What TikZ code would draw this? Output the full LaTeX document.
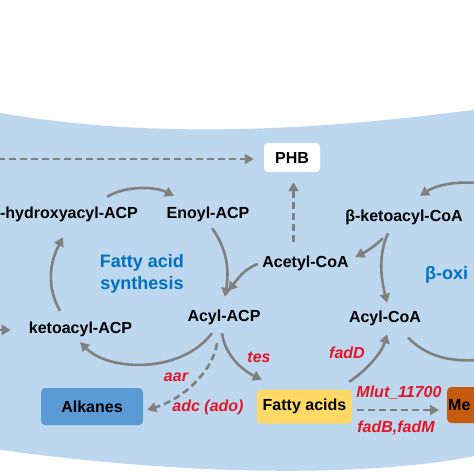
\documentclass[tikz,border=0pt]{standalone}
\usepackage{fontspec}
\setmainfont{Liberation Sans}
\usetikzlibrary{arrows.meta}
\definecolor{cellblue}{RGB}{189,215,238}
\definecolor{arrowgray}{RGB}{128,128,128}
\definecolor{genered}{RGB}{230,20,40}
\definecolor{pathblue}{RGB}{0,112,192}
\definecolor{alkblue}{RGB}{91,155,213}
\definecolor{fayellow}{RGB}{255,217,102}
\definecolor{mebrown}{RGB}{197,90,17}

\begin{document}
\begin{tikzpicture}
	[x=1pt,y=-1pt,
	met/.style={font=\fontsize{16}{19}\selectfont\bfseries,inner sep=1pt},
	gene/.style={font=\fontsize{16}{19}\selectfont\bfseries\itshape,text=genered,inner sep=1pt},
	cycle/.style={font=\fontsize{18}{22}\selectfont\bfseries,text=pathblue,inner sep=1pt},
	prod/.style={met,rounded corners=4pt,minimum height=36pt},
	conv/.style={draw=arrowgray,line width=2.6pt,-{Triangle[length=9pt,width=10pt]}},
	dconv/.style={conv,dash pattern=on 7pt off 4pt}]

	\useasboundingbox (0,0) rectangle (474,474);
	\clip (0,0) rectangle (474,474);
	\fill[cellblue] (-5,112) .. controls (140,138) and (300,133) .. (480,109)
		-- (480,455) .. controls (380,476) and (200,478) .. (-5,449) -- cycle;

	% fatty acid synthesis
	\node[met] (hyd) at (69,214) {-hydroxyacyl-ACP};
	\node[met] (enoyl) at (208,214) {Enoyl-ACP};
	\node[met] (acylacp) at (224,317) {Acyl-ACP};
	\node[met] (ketoacp) at (80.5,329) {ketoacyl-ACP};
	\node[cycle,align=center] (fasyn) at (142,274) {Fatty acid\\synthesis};
	\node[met] (acetyl) at (305.5,263) {Acetyl-CoA};
	\node[prod,fill=white,minimum width=56,minimum height=29] (phb) at (292,157.5) {PHB};

	% beta oxidation
	\node[met] (bketo) at (404,217) {β-ketoacyl-CoA};
	\node[met] (acylcoa) at (385,318) {Acyl-CoA};
	\node[cycle,anchor=west] (boxi) at (424,275) {β-oxi};

	% products
	\node[prod,fill=alkblue,minimum width=102,minimum height=37] (alk) at (92,406.5) {Alkanes};
	\node[prod,fill=fayellow,minimum width=95,minimum height=34] (fatty) at (304.5,406.5) {Fatty acids};
	\node[prod,fill=mebrown,text width=66,align=left,anchor=west] (me) at (447,405) {Me};

	\node[gene] (aar) at (176,377) {aar};
	\node[gene] (adc) at (208,407) {adc (ado)};
	\node[gene] (tes) at (259,357) {tes};
	\node[gene] (fadD) at (347,353) {fadD};
	\node[gene] (mlut) at (399,393) {Mlut\_11700};
	\node[gene] (fadBM) at (396,428) {fadB,fadM};

	\coordinate (ketoin) at (-2,330);
	\coordinate (phbin) at (-2,159);
	\coordinate (oxin) at (478,183);
	\coordinate (oxout) at (478,360);

	\draw[conv] ([shift={(38,-8.5)}]hyd.north) .. controls +(20,-12) and +(-18,-9) .. ([shift={(-34,-9.5)}]enoyl.north);
	\draw[conv] ([shift={(4,5.5)}]enoyl.south) .. controls +(16,22) and +(4,-25) .. ([shift={(1,-11.5)}]acylacp.north);
	\draw[conv] ([shift={(-3.5,1)}]acetyl.west) .. controls +(-15,6) and +(10,-12) .. ([shift={(4,-17.5)}]acylacp.north);
	\draw[conv] ([shift={(-12,7.5)}]acylacp.south) .. controls +(-30,40) and +(30,30) .. ([shift={(-0.5,4.5)}]ketoacp.south);
	\draw[conv] ([shift={(-20.5,-9.5)}]ketoacp.north) .. controls +(-14,-25) and +(-13,25) .. ([shift={(-6,14.5)}]hyd.south);
	\draw[conv] (ketoin) -- ([shift={(-17,1)}]ketoacp.west);

	\draw[dconv] (phbin) -- ([shift={(-10,1.5)}]phb.west);
	\draw[dconv] ([shift={(-12,-12.5)}]acetyl.north) -- ([shift={(1.5,10)}]phb.south);

	\draw[dconv] ([shift={(-7,17.5)}]acylacp.south) .. controls +(-4,27) and +(38,-12) .. ([shift={(4,3.5)}]alk.east);
	\draw[conv] ([shift={(-2,7.5)}]acylacp.south) .. controls +(3,22) and +(-20,-10) .. ([shift={(5,-9.5)}]fatty.north west);
	\draw[conv] ([shift={(-3,-7.5)}]fatty.north east) .. controls +(18,-12) and +(-5,18) .. ([shift={(2,7.5)}]acylcoa.south);
	\draw[dconv] ([shift={(5,3.5)}]fatty.east) -- ([shift={(-8,5)}]me.west);

	\draw[conv] (oxin) .. controls +(-25,-2) and +(15,-10) .. ([shift={(16,-12.5)}]bketo.north);
	\draw[conv] ([shift={(-21,12.5)}]bketo.south) .. controls +(-8,8) and +(10,-5) .. ([shift={(5.5,-6)}]acetyl.east);
	\draw[conv] ([shift={(-16,7.5)}]bketo.south) .. controls +(-10,22) and +(-6,-25) .. ([shift={(2,-6.5)}]acylcoa.north);
	\draw[conv,-] ([shift={(23,11)}]acylcoa.south) .. controls +(18,18) and +(-30,2) .. (oxout);

\end{tikzpicture}
\end{document}
